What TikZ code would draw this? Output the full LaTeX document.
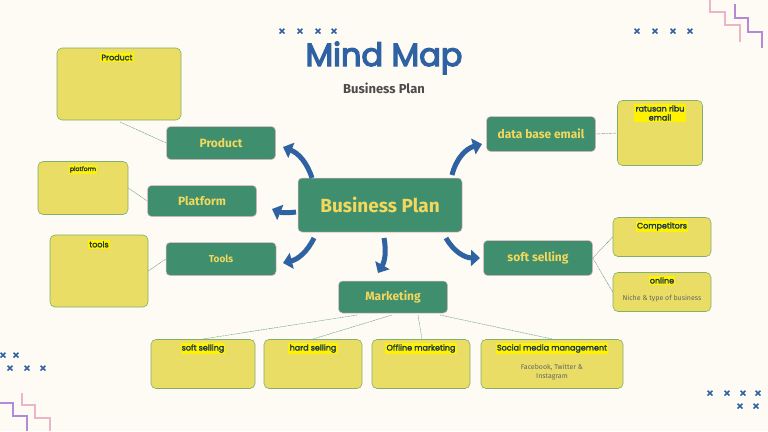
\documentclass[tikz,border=0pt]{standalone}
\usepackage{fontspec}
\setmainfont{Fira Sans}
\newfontfamily\pop[FakeBold=2.5]{Poppins}
\newfontfamily\popt[FakeBold=4]{Poppins}
\usetikzlibrary{arrows.meta}
\definecolor{bg}{HTML}{FDFBF3}
\definecolor{grn}{HTML}{3F8F6F}
\definecolor{yel}{HTML}{EADD66}
\definecolor{txy}{HTML}{F2D85C}
\definecolor{blu}{HTML}{2F62A3}
\definecolor{nav}{HTML}{1F3A52}
\definecolor{hl}{HTML}{FFF200}
\definecolor{pnk}{HTML}{EBB5C8}
\definecolor{pur}{HTML}{B48AD6}
\begin{document}
\begin{tikzpicture}[x=1pt,y=-1pt,
 gbox/.style={fill=grn,rounded corners=4pt,draw=pnk,line width=0.5pt,text=txy,font=\bfseries\large,inner sep=0pt},
 ycard/.style={fill=yel,rounded corners=5pt,draw=grn!60!yel,line width=0.6pt},
 ylab/.style={fill=hl,font=\pop\fontsize{8}{9}\selectfont,text=nav,inner sep=1.2pt,align=center},
 link/.style={draw=grn!70!gray,dashed,dash pattern=on 1pt off 0.6pt,line width=0.4pt},
 barrow/.style={draw=blu,line width=5pt,-{Triangle[length=9pt,width=16pt]}},
 xm/.style={font=\pop\large,text=blu}]
\fill[bg] (0,0) rectangle (768,431);
\useasboundingbox (0,0) rectangle (768,431);
\node[font=\popt\fontsize{32}{32}\selectfont,text=blu] (title) at (384,58) {Mind Map};
\node[font=\bfseries\fontsize{13}{13}\selectfont,text=black!70] (sub) at (384,88) {Business Plan};
\foreach \x in {282,300,318,334} \node[xm] at (\x,32) {×};
\foreach \x in {637,655,673,690} \node[xm] at (\x,32) {×};
\foreach \x in {3,16} \node[xm] at (\x,356) {×};
\foreach \x in {10,27,43} \node[xm] at (\x,369) {×};
\foreach \x in {710,727,743,758} \node[xm] at (\x,394) {×};
\foreach \x in {740,756} \node[xm] at (\x,407) {×};
\draw[pnk,line width=1.5pt] (710,0)--(710,12)--(725,12)--(725,25)--(740,25)--(740,42);
\draw[pur,line width=1.5pt] (735,4)--(735,18)--(748,18)--(748,32)--(762,32)--(762,48);
\draw[pur,line width=1.5pt] (0,403)--(13,403)--(13,416)--(27,416)--(27,431);
\draw[pnk,line width=1.5pt] (22,393)--(22,405)--(35,405)--(35,418)--(50,418)--(50,431);
\node[gbox,minimum width=164pt,minimum height=54pt,font=\bfseries\fontsize{19}{19}\selectfont] (bp) at (380,205) {Business Plan};
\node[gbox,minimum width=109pt,minimum height=33pt] (prod) at (221,143) {Product};
\node[gbox,minimum width=109pt,minimum height=31pt] (plat) at (202,201) {Platform};
\node[gbox,minimum width=110pt,minimum height=33pt,font=\bfseries] (tools) at (221,259) {Tools};
\node[gbox,minimum width=109pt,minimum height=32pt] (mkt) at (393,297) {Marketing};
\node[gbox,minimum width=109pt,minimum height=35pt] (db) at (541,134) {data base email};
\node[gbox,minimum width=109pt,minimum height=35pt] (ss) at (538,258) {soft selling};
\node[ycard,minimum width=124pt,minimum height=72pt] (cprod) at (119,84) {};
\node[ylab,anchor=north] at (117,53) {Product};
\node[ycard,minimum width=90pt,minimum height=53pt] (cplat) at (83,188) {};
\node[ylab,anchor=north,font=\pop\fontsize{6}{7}\selectfont] at (83,165) {platform};
\node[ycard,minimum width=98pt,minimum height=72pt] (ctools) at (99,271) {};
\node[ylab,anchor=north] at (99,240) {tools};
\node[ycard,minimum width=85pt,minimum height=65pt] (crat) at (660,133) {};
\node[ylab,anchor=north] at (660,104) {ratusan ribu\\email};
\node[ycard,minimum width=98pt,minimum height=39pt] (ccomp) at (662,237) {};
\node[ylab,anchor=north] at (662,221) {Competitors};
\node[ycard,minimum width=98pt,minimum height=39pt] (conl) at (662,292) {};
\node[ylab,anchor=north] at (662,276) {online};
\node[font=\fontsize{7}{8}\selectfont,text=black!60] at (662,299) {Niche \& type of business};
\node[ycard,minimum width=104pt,minimum height=49pt] (b1) at (203,364) {};
\node[ylab,anchor=north] at (203,343) {soft selling};
\node[ycard,minimum width=98pt,minimum height=49pt] (b2) at (313,364) {};
\node[ylab,anchor=north] at (313,343) {hard selling};
\node[ycard,minimum width=98pt,minimum height=49pt] (b3) at (421,364) {};
\node[ylab,anchor=north] at (421,343) {Offline marketing};
\node[ycard,minimum width=142pt,minimum height=49pt] (b4) at (552,364) {};
\node[ylab,anchor=north] at (552,343) {Social media management};
\node[font=\fontsize{7}{9}\selectfont,text=black!60,align=center] at (552,372) {Facebook, Twitter \&\\Instagram};
\coordinate (p1) at (120,122);
\draw[link] (p1) -- (prod.west);
\draw[link] (cplat.east) -- (plat.west);
\draw[link] (ctools.east) -- (tools.west);
\draw[link] (db.east) -- (crat.west);
\draw[link] (ss.east) -- (ccomp.west);
\draw[link] (ss.east) -- (conl.west);
\coordinate (m1) at (357,315); \coordinate (m2) at (392,315);
\coordinate (m3) at (418,315); \coordinate (m4) at (440,315);
\coordinate (t1) at (203,339); \coordinate (t2) at (313,339);
\coordinate (t3) at (422,339); \coordinate (t4) at (552,339);
\draw[link] (m1) -- (t1);
\draw[link] (m2) -- (t2);
\draw[link] (m3) -- (t3);
\draw[link] (m4) -- (t4);
\draw[barrow] (312,178) to[bend right=25] (283,147);
\draw[barrow] (296,212) to[bend left=15] (272,209);
\draw[barrow] (314,238) to[bend left=25] (283,263);
\draw[barrow] (384,238) to[bend left=20] (378,273);
\draw[barrow] (452,175) to[bend left=30] (482,144);
\draw[barrow] (446,238) to[bend right=30] (480,258);
\end{tikzpicture}
\end{document}
